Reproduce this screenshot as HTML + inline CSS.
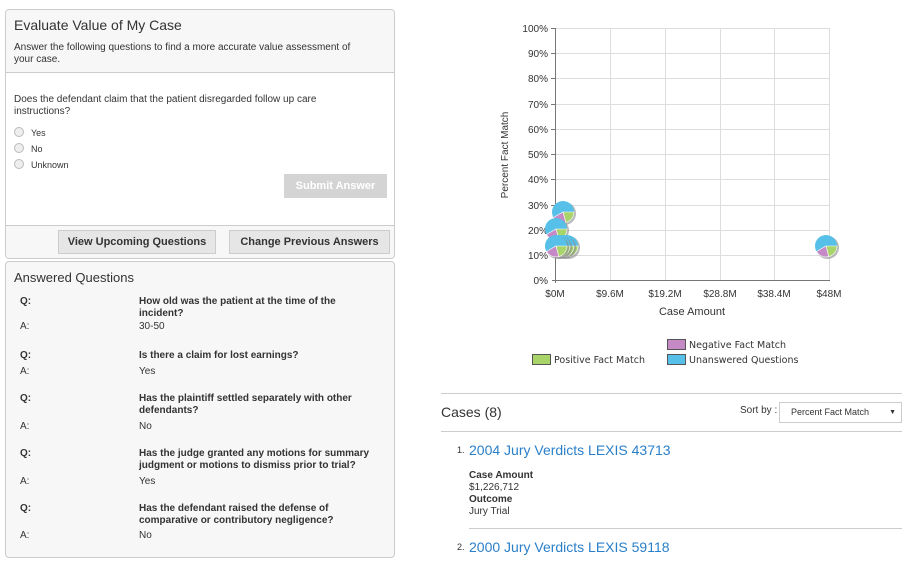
<!DOCTYPE html>
<html><head><style>
body{margin:0;width:919px;height:565px;background:#fff;font-family:"Liberation Sans",sans-serif;color:#333;position:relative;overflow:hidden}
.a{position:absolute;white-space:nowrap}
.p{position:absolute;border:1px solid #ccc;border-radius:4px}
.btn{position:absolute;background:#e6e6e6;border:1px solid #ccc;font-weight:bold;font-size:11px;text-align:center;line-height:22px;color:#333}
.r{position:absolute;width:8px;height:8px;border:1px solid #bbb;border-radius:50%;background:#eee}
.s{font-size:10px}
</style></head><body>
<div class="p" style="left:5px;top:9px;width:388px;height:248px;background:#fff;overflow:hidden">
 <div style="position:absolute;left:0;top:0;width:388px;height:62px;background:#f7f7f7;border-bottom:1px solid #ccc"></div>
 <div style="position:absolute;left:0;top:215px;width:388px;height:34px;background:#f7f7f7;border-top:1px solid #ccc"></div>
</div>
<div class="a" style="left:14px;top:17px;font-size:14px">Evaluate Value of My Case</div>
<div class="a s" style="left:14px;top:42px;line-height:12px">Answer the following questions to find a more accurate value assessment of<br>your case.</div>
<div class="a s" style="left:14px;top:94px;line-height:12px">Does the defendant claim that the patient disregarded follow up care<br>instructions?</div>
<div class="r" style="left:14px;top:127px"></div><div class="a" style="left:31px;top:128px;font-size:9px">Yes</div>
<div class="r" style="left:14px;top:143px"></div><div class="a" style="left:31px;top:144px;font-size:9px">No</div>
<div class="r" style="left:14px;top:159px"></div><div class="a" style="left:31px;top:160px;font-size:9px">Unknown</div>
<div class="btn" style="left:284px;top:174px;width:101px;background:#d4d4d4;border-color:#d4d4d4;color:#fff">Submit Answer</div>
<div class="btn" style="left:58px;top:230px;width:156px">View Upcoming Questions</div>
<div class="btn" style="left:229px;top:230px;width:159px">Change Previous Answers</div>

<div class="p" style="left:5px;top:261px;width:388px;height:295px;background:#f7f7f7"></div>
<div class="a" style="left:14px;top:270px;font-size:13px">Answered Questions</div>
<div class="a s" style="left:20px;top:296px;font-weight:bold">Q:</div><div class="a s" style="left:139px;top:296px;font-weight:bold;line-height:12px">How old was the patient at the time of the<br>incident?</div>
<div class="a s" style="left:20px;top:321px">A:</div><div class="a s" style="left:139px;top:321px">30-50</div>
<div class="a s" style="left:20px;top:350px;font-weight:bold">Q:</div><div class="a s" style="left:139px;top:350px;font-weight:bold">Is there a claim for lost earnings?</div>
<div class="a s" style="left:20px;top:366px">A:</div><div class="a s" style="left:139px;top:366px">Yes</div>
<div class="a s" style="left:20px;top:393px;font-weight:bold">Q:</div><div class="a s" style="left:139px;top:393px;font-weight:bold;line-height:12px">Has the plaintiff settled separately with other<br>defendants?</div>
<div class="a s" style="left:20px;top:421px">A:</div><div class="a s" style="left:139px;top:421px">No</div>
<div class="a s" style="left:20px;top:448px;font-weight:bold">Q:</div><div class="a s" style="left:139px;top:448px;font-weight:bold;line-height:12px">Has the judge granted any motions for summary<br>judgment or motions to dismiss prior to trial?</div>
<div class="a s" style="left:20px;top:476px">A:</div><div class="a s" style="left:139px;top:476px">Yes</div>
<div class="a s" style="left:20px;top:503px;font-weight:bold">Q:</div><div class="a s" style="left:139px;top:503px;font-weight:bold;line-height:12px">Has the defendant raised the defense of<br>comparative or contributory negligence?</div>
<div class="a s" style="left:20px;top:530px">A:</div><div class="a s" style="left:139px;top:530px">No</div>

<svg class="a" style="left:0;top:0" width="919" height="400" font-family="Liberation Sans,sans-serif">
<defs>
<g id="pie">
<circle r="11.5" fill="#888" opacity=".6" cx="1.5" cy="1.5"/>
<circle r="11" fill="#56c0e8"/>
<path d="M0 0 L11 0 A11 11 0 0 1 2.8 10.6 Z" fill="#a8d46a" stroke="#fff" stroke-width=".6"/>
<path d="M0 0 L2.8 10.6 A11 11 0 0 1 -9.5 5.5 Z" fill="#c589c5" stroke="#fff" stroke-width=".6"/>
</g>
</defs>
<g stroke="#ddd" stroke-width="1">
<line x1="555" x2="830" y1="28.5" y2="28.5"/><line x1="555" x2="830" y1="53.5" y2="53.5"/><line x1="555" x2="830" y1="78.5" y2="78.5"/><line x1="555" x2="830" y1="104.5" y2="104.5"/><line x1="555" x2="830" y1="129.5" y2="129.5"/><line x1="555" x2="830" y1="154.5" y2="154.5"/><line x1="555" x2="830" y1="179.5" y2="179.5"/><line x1="555" x2="830" y1="205.5" y2="205.5"/><line x1="555" x2="830" y1="230.5" y2="230.5"/><line x1="555" x2="830" y1="255.5" y2="255.5"/>
<line x1="610.5" x2="610.5" y1="28" y2="280"/><line x1="665.5" x2="665.5" y1="28" y2="280"/><line x1="720.5" x2="720.5" y1="28" y2="280"/><line x1="774.5" x2="774.5" y1="28" y2="280"/><line x1="829.5" x2="829.5" y1="28" y2="280"/>
</g>
<g stroke="#777"><line x1="555.5" x2="555.5" y1="28" y2="283"/><line x1="552" x2="830" y1="280.5" y2="280.5"/>
<g>
<line x1="551" x2="555" y1="28.5" y2="28.5"/><line x1="551" x2="555" y1="53.5" y2="53.5"/><line x1="551" x2="555" y1="78.5" y2="78.5"/><line x1="551" x2="555" y1="104.5" y2="104.5"/><line x1="551" x2="555" y1="129.5" y2="129.5"/><line x1="551" x2="555" y1="154.5" y2="154.5"/><line x1="551" x2="555" y1="179.5" y2="179.5"/><line x1="551" x2="555" y1="205.5" y2="205.5"/><line x1="551" x2="555" y1="230.5" y2="230.5"/><line x1="551" x2="555" y1="255.5" y2="255.5"/>
</g></g>
<g font-size="10" fill="#333" text-anchor="end">
<text x="548" y="32">100%</text><text x="548" y="57">90%</text><text x="548" y="82">80%</text><text x="548" y="108">70%</text><text x="548" y="133">60%</text><text x="548" y="158">50%</text><text x="548" y="183">40%</text><text x="548" y="209">30%</text><text x="548" y="234">20%</text><text x="548" y="259">10%</text><text x="548" y="284">0%</text>
</g>
<g font-size="10" fill="#333" text-anchor="middle">
<text x="555" y="297">$0M</text><text x="610" y="297">$9.6M</text><text x="665" y="297">$19.2M</text><text x="720" y="297">$28.8M</text><text x="774" y="297">$38.4M</text><text x="829" y="297">$48M</text>
<text x="692" y="315" font-size="11">Case Amount</text>
<text transform="translate(508,155) rotate(-90)" font-size="10">Percent Fact Match</text>
</g>
<use href="#pie" x="563" y="212"/>
<use href="#pie" x="556" y="229"/>
<use href="#pie" x="567" y="246"/><use href="#pie" x="563" y="246"/><use href="#pie" x="559" y="246"/><use href="#pie" x="556" y="246"/>
<use href="#pie" x="826" y="246"/>
<g font-family="DejaVu Sans,sans-serif" font-size="9.5" fill="#333">
<rect x="667.5" y="339.5" width="18" height="10" fill="#c589c5" stroke="#555"/><text x="689" y="348">Negative Fact Match</text>
<rect x="532.5" y="354.5" width="18" height="10" fill="#a8d46a" stroke="#555"/><text x="554" y="363">Positive Fact Match</text>
<rect x="667.5" y="354.5" width="18" height="10" fill="#56c0e8" stroke="#555"/><text x="689" y="363">Unanswered Questions</text>
</g>
</svg>

<div class="a" style="left:441px;top:393px;width:461px;height:1px;background:#ccc"></div>
<div class="a" style="left:441px;top:404px;font-size:14px">Cases (8)</div>
<div class="a s" style="left:740px;top:405px">Sort by :</div>
<div class="a" style="left:779px;top:402px;width:121px;height:19px;border:1px solid #ccc;font-size:9px;line-height:19px"><span style="margin-left:11px">Percent Fact Match</span><span style="position:absolute;right:5px;font-size:7px">▼</span></div>
<div class="a" style="left:441px;top:431px;width:461px;height:1px;background:#ccc"></div>
<div class="a" style="left:457px;top:445px;font-size:9px">1.</div>
<div class="a" style="left:469px;top:442px;font-size:14px;color:#2a7fc9">2004 Jury Verdicts LEXIS 43713</div>
<div class="a s" style="left:469px;top:470px;line-height:12px"><b>Case Amount</b><br>$1,226,712<br><b>Outcome</b><br>Jury Trial</div>
<div class="a" style="left:469px;top:528px;width:433px;height:1px;background:#ccc"></div>
<div class="a" style="left:457px;top:542px;font-size:9px">2.</div>
<div class="a" style="left:469px;top:539px;font-size:14px;color:#2a7fc9">2000 Jury Verdicts LEXIS 59118</div>
</body></html>
